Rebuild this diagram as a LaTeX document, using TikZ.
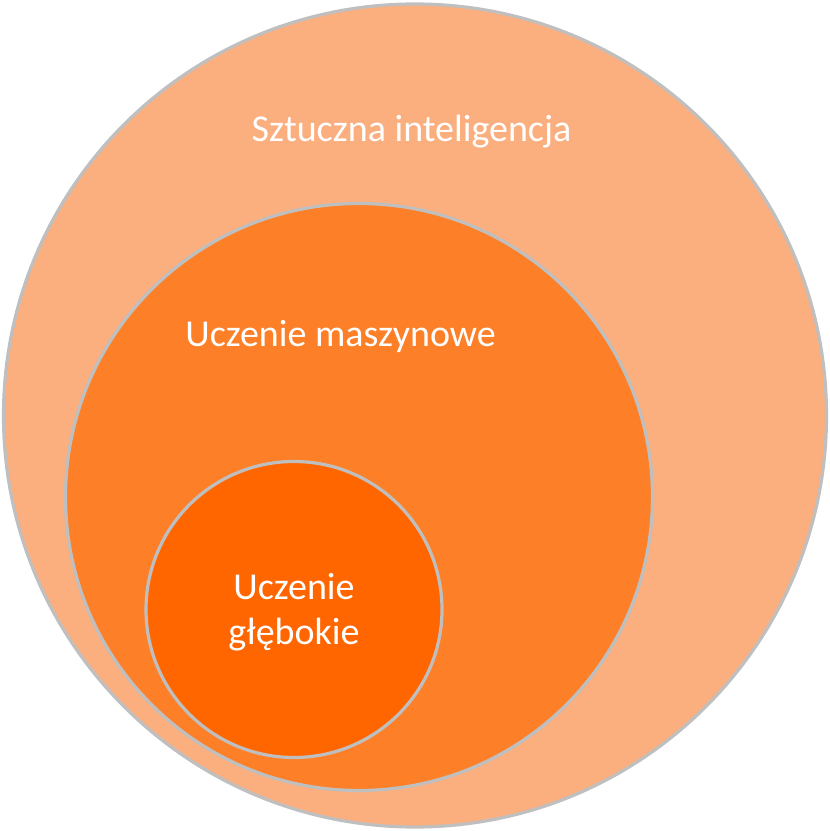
\documentclass[tikz,border=0pt]{standalone}
\usepackage{fontspec}
\setmainfont{Carlito}
\definecolor{aiC}{HTML}{FBAE7E}
\definecolor{mlC}{HTML}{FD7F27}
\definecolor{dlC}{HTML}{FF6600}
\definecolor{rimC}{HTML}{BFBFBF}
\tikzset{
  ring/.style={circle, draw=rimC, line width=3.2pt, inner sep=0pt, outer sep=0pt},
  lbl/.style={text=white, font=\fontsize{38}{45}\selectfont, inner sep=0pt, anchor=base, align=center}
}
\begin{document}
\begin{tikzpicture}[x=1pt,y=1pt]
\useasboundingbox (0,0) rectangle (830,831);
\node[ring, fill=aiC, minimum size=823pt] (ai) at (415,415.5) {};
\node[ring, fill=mlC, minimum size=587pt] (ml) at (359,334) {};
\node[ring, fill=dlC, minimum size=296pt] (dl) at (294,221.5) {};
\node[lbl] (tai) at (411.5,689) {Sztuczna inteligencja};
\node[lbl] (tml) at (340.5,484) {Uczenie maszynowe};
\node[lbl] (tdl1) at (294,231) {Uczenie};
\node[lbl] (tdl2) at (294,186) {głębokie};
\end{tikzpicture}
\end{document}
